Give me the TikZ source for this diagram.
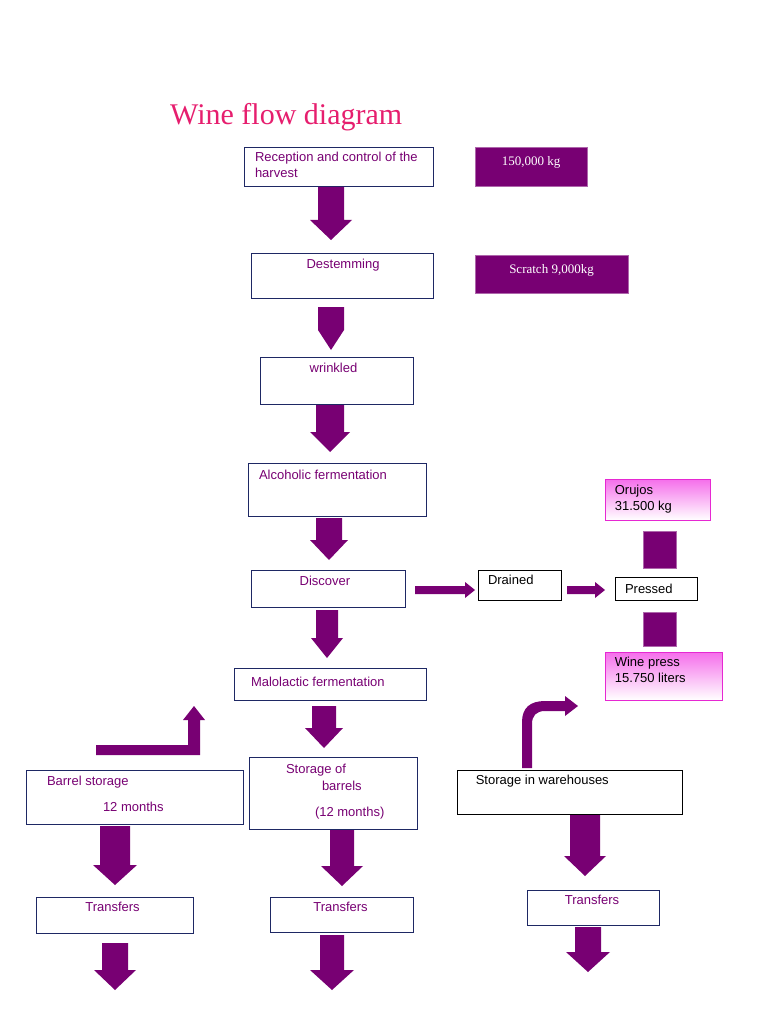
\documentclass[tikz,border=0pt]{standalone}
\usepackage{fontspec}
\setmainfont{Liberation Sans}
\newfontfamily\serifnum{Liberation Serif}
\usetikzlibrary{calc,positioning}
\definecolor{wine}{RGB}{120,0,115}
\definecolor{navy}{RGB}{30,40,100}
\definecolor{rosetitle}{RGB}{230,30,110}
\definecolor{pinkfill}{RGB}{245,110,235}
\definecolor{pinkedge}{RGB}{230,40,210}
\tikzset{
  box/.style={rectangle,draw=navy,thin,fill=white,inner sep=0pt},
  darkbox/.style={rectangle,draw=black,thin,fill=white,inner sep=0pt},
  winebox/.style={rectangle,draw=wine!60,fill=wine,inner sep=0pt},
  pinkbox/.style={rectangle,draw=pinkedge,thick,top color=pinkfill,bottom color=white,inner sep=0pt},
  txt/.style={inner sep=0pt,text=wine,font=\fontsize{13}{16}\selectfont,align=left},
  btxt/.style={inner sep=0pt,text=black,font=\fontsize{13}{16}\selectfont,align=left},
  wtxt/.style={inner sep=0pt,text=white,font=\serifnum\fontsize{13}{16}\selectfont},
  blockarrow/.style={fill=wine,draw=none}
}
% box from corner (x1,y1) to (x2,y2)
\newcommand{\bx}[6]{\node[#1,minimum width={#4-#2},minimum height={#5-#3}] (#6) at ({(#2+#4)/2},{(#3+#5)/2}) {};}
% down block arrow: x centre, top, bottom, half shaft, half head
\newcommand{\darrow}[5]{\fill[blockarrow] ({#1-#4},#2) -- ({#1+#4},#2) -- ({#1+#4},{#3-20}) -- ({#1+#5},{#3-20}) -- (#1,#3) -- ({#1-#5},{#3-20}) -- ({#1-#4},{#3-20}) -- cycle;}
% right block arrow: left, right, y centre
\newcommand{\rarrow}[3]{\fill[blockarrow] (#1,{#3-4}) -- ({#2-10},{#3-4}) -- ({#2-10},{#3-8}) -- (#2,#3) -- ({#2-10},{#3+8}) -- ({#2-10},{#3+4}) -- (#1,{#3+4}) -- cycle;}
\begin{document}
\begin{tikzpicture}[x=1pt,y=-1pt]
  \useasboundingbox (0,0) rectangle (768,1024);
  \node[anchor=west,text=rosetitle,font=\serifnum\fontsize{30}{34}\selectfont,inner sep=0pt] (title) at (170,117) {Wine flow diagram};

  % main column
  \bx{box}{244}{147}{433}{186}{recep}
  \node[txt,anchor=north west] at ($(recep.north west)+(11,5)$) {Reception and control of the\\harvest};
  \bx{winebox}{475}{147}{587}{186}{mass}
  \node[wtxt] at ($(mass.center)+(0,-4)$) {150,000 kg};
  \darrow{331}{187}{240}{13}{21}

  \bx{box}{251}{253}{433}{298}{destem}
  \node[txt,anchor=north] at ($(destem.north)+(1,6)$) {Destemming};
  \bx{winebox}{475}{255}{628}{293}{scratch}
  \node[wtxt] at ($(scratch.center)+(0,-4)$) {Scratch 9,000kg};
  \darrow{331}{307}{350}{13}{13}

  \bx{box}{260}{357}{413}{404}{wrink}
  \node[txt,anchor=north] at ($(wrink.north)+(-3,6)$) {wrinkled};
  \darrow{330}{405}{452}{14}{20}

  \bx{box}{248}{463}{426}{516}{alco}
  \node[txt,anchor=north west] at ($(alco.north west)+(11,7)$) {Alcoholic fermentation};
  \darrow{329}{518}{560}{13}{19}

  \bx{box}{251}{570}{405}{607}{disc}
  \node[txt,anchor=north] at ($(disc.north)+(-3,6)$) {Discover};
  \rarrow{415}{475}{590}

  \bx{darkbox}{478}{570}{561}{600}{drain}
  \node[btxt,anchor=north west] at ($(drain.north west)+(10,5)$) {Drained};
  \rarrow{567}{605}{590}

  \bx{darkbox}{615}{577}{697}{600}{press}
  \node[btxt,anchor=west] at ($(press.west)+(10,0)$) {Pressed};

  \bx{pinkbox}{605}{479}{710}{520}{orujo}
  \node[btxt,anchor=north west] at ($(orujo.north west)+(10,6)$) {Orujos\\31.500 kg};
  \bx{winebox}{643}{531}{676}{568}{sqa}
  \bx{winebox}{643}{612}{676}{646}{sqb}
  \bx{pinkbox}{605}{652}{722}{700}{winep}
  \node[btxt,anchor=north west] at ($(winep.north west)+(10,5)$) {Wine press\\15.750 liters};

  \darrow{327}{610}{658}{11}{16}
  \bx{box}{234}{668}{426}{700}{malo}
  \node[txt,anchor=west] at ($(malo.west)+(17,-2)$) {Malolactic fermentation};
  \darrow{324}{706}{748}{12}{19}

  % side arrows
  \fill[blockarrow] (96,745) -- (188,745) -- (188,720) -- (183,720) -- (194,706) -- (205,720) -- (200,720) -- (200,755) -- (96,755) -- cycle;
  \fill[blockarrow] (522,768) -- (522,722) .. controls (522,708) and (530,701) .. (545,701) -- (565,701) -- (565,696) -- (578,706) -- (565,716) -- (565,711) -- (545,711) .. controls (536,711) and (532,716) .. (532,724) -- (532,768) -- cycle;

  % bottom row
  \bx{box}{26}{770}{243}{824}{barrel}
  \node[txt,anchor=north west] at ($(barrel.north west)+(21,6)$) {Barrel storage};
  \node[txt,anchor=north west] at ($(barrel.north west)+(77,32)$) {12 months};
  \bx{box}{249}{757}{417}{829}{stbar}
  \node[txt,anchor=north west] at ($(stbar.north west)+(37,7)$) {Storage of};
  \node[txt,anchor=north west] at ($(stbar.north west)+(73,24)$) {barrels};
  \node[txt,anchor=north west] at ($(stbar.north west)+(66,50)$) {(12 months)};
  \node[rectangle,draw=black,thick,fill=white,inner sep=0pt,minimum width=225,minimum height=44] (wareh) at (569.5,792) {};
  \node[btxt,anchor=north west] at ($(wareh.north west)+(19,5)$) {Storage in warehouses};

  \darrow{115}{826}{885}{15}{22}
  \darrow{342}{830}{886}{12}{21}
  \darrow{585}{815}{876}{15}{21}

  \bx{box}{36}{897}{193}{933}{trA}
  \node[txt,anchor=north] at ($(trA.north)+(-2,5)$) {Transfers};
  \bx{box}{270}{897}{413}{932}{trB}
  \node[txt,anchor=north] at ($(trB.north)+(-1,5)$) {Transfers};
  \bx{box}{527}{890}{659}{925}{trC}
  \node[txt,anchor=north] at ($(trC.north)+(-1,5)$) {Transfers};

  \darrow{115}{943}{990}{13}{21}
  \darrow{332}{935}{990}{12}{22}
  \darrow{588}{927}{972}{13}{22}
\end{tikzpicture}
\end{document}
